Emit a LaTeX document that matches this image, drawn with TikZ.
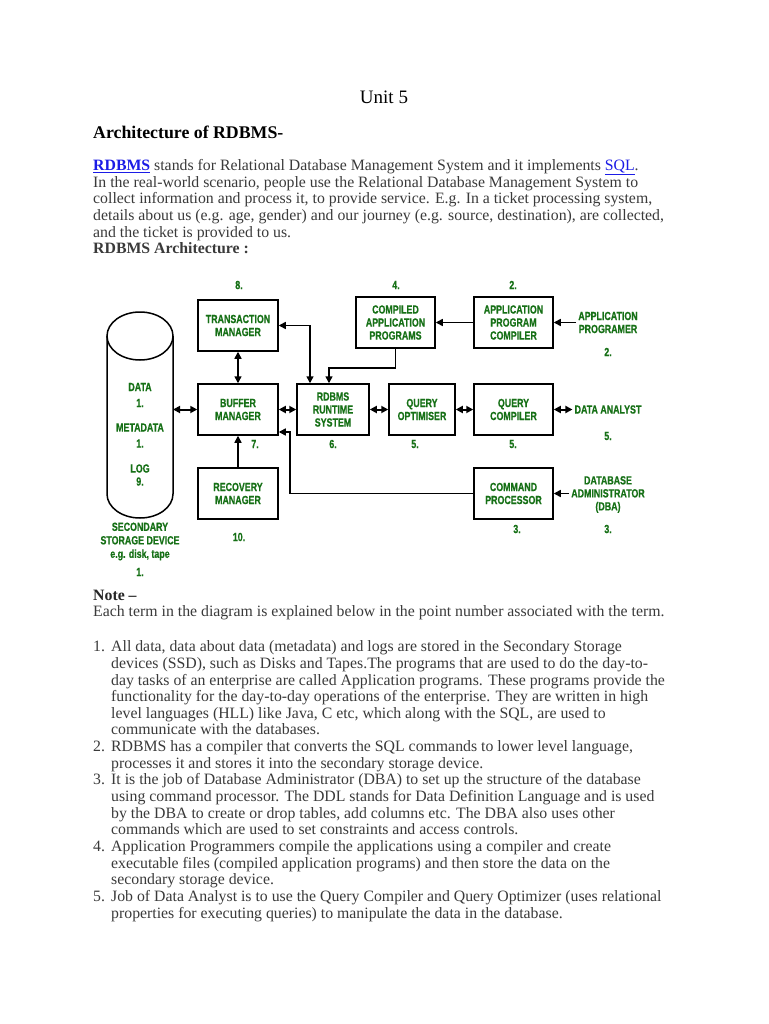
\documentclass[tikz,border=0pt]{standalone}
\usepackage{fontspec}
\setmainfont{Liberation Serif}
\newfontfamily\diagfont[FakeStretch=0.75,FakeBold=0.6]{Liberation Sans}
\usetikzlibrary{arrows.meta,positioning}
\definecolor{dgreen}{RGB}{22,112,22}
\definecolor{txtgray}{RGB}{58,58,58}
\definecolor{linkblue}{RGB}{28,28,230}

\tikzset{
	mbox/.style={draw, line width=1.5pt, minimum width=80pt, minimum height=51pt, inner sep=0pt, align=center, text=dgreen, font=\diagfont\bfseries\fontsize{11.8}{13}\selectfont},
	lbl/.style={inner sep=2pt, align=center, text=dgreen, font=\diagfont\bfseries\fontsize{11.8}{13}\selectfont},
	body/.style={anchor=base west, inner sep=0pt, text=txtgray, font=\fontsize{15.8}{16.6}\selectfont},
	link/.style={line width=1.5pt},
}

\begin{document}
\begin{tikzpicture}[x=1pt, y=-1pt, >={Triangle[length=7pt,width=7pt]}]
	\fill[white] (0,0) rectangle (768,1024);
	\useasboundingbox (0,0) rectangle (768,1024);
	% page text
	\node[anchor=base, inner sep=0pt, font=\fontsize{19}{20}\selectfont] (unit) at (384,103.3) {Unit 5};
	\node[anchor=base west, inner sep=0pt, font=\bfseries\fontsize{17.8}{20}\selectfont] (head) at (93,138.3) {Architecture of RDBMS-};
	\node[body] (p1) at (93,170.7) {\textcolor{linkblue}{\bfseries\underline{RDBMS}} stands for Relational Database Management System and it implements \textcolor{linkblue}{\underline{SQL}}.};
	\node[body] (p2) at (93,187.3) {In the real-world scenario, people use the Relational Database Management System to};
	\node[body] (p3) at (93,204) {collect information and process it, to provide service. E.g. In a ticket processing system,};
	\node[body] (p4) at (93,220.6) {details about us (e.g. age, gender) and our journey (e.g. source, destination), are collected,};
	\node[body] (p5) at (93,237.2) {and the ticket is provided to us.};
	\node[body, font=\bfseries\fontsize{15.8}{16.6}\selectfont] (p6) at (93,253.8) {RDBMS Architecture :};
	% storage device
	\draw[line width=1.5pt] (140,336) ellipse [x radius=33pt, y radius=24pt];
	\draw[line width=1.5pt] (107,336) -- (107,494) arc[start angle=180, end angle=360, x radius=33pt, y radius=24pt] -- (173,336);
	\coordinate (ssd) at (173,409.5);
	\node[lbl] (data) at (140,395) {DATA\\[3pt]1.};
	\node[lbl] (meta) at (140,435.5) {METADATA\\[3pt]1.};
	\node[lbl] (log) at (140,475) {LOG\\9.};
	\node[lbl, font=\diagfont\bfseries\fontsize{11.8}{13.5}\selectfont] (ssdtxt) at (140,541.5) {SECONDARY\\STORAGE DEVICE\\e.g. disk, tape};
	\node[lbl] (n1) at (140,572) {1.};
	% boxes
	\node[mbox] (tm) at (238,325.5) {TRANSACTION\\MANAGER};
	\node[mbox] (bm) at (238,409.5) {BUFFER\\MANAGER};
	\node[mbox] (rm) at (238,493.5) {RECOVERY\\MANAGER};
	\node[mbox, minimum width=72pt] (rt) at (333,409.5) {RDBMS\\RUNTIME\\SYSTEM};
	\node[mbox, minimum width=66pt] (qo) at (422,409.5) {QUERY\\OPTIMISER};
	\node[mbox, minimum width=79pt] (qc) at (513.5,409.5) {QUERY\\COMPILER};
	\node[mbox, minimum width=79pt] (cap) at (395.5,322.5) {COMPILED\\APPLICATION\\PROGRAMS};
	\node[mbox, minimum width=79pt] (apc) at (513.5,322.5) {APPLICATION\\PROGRAM\\COMPILER};
	\node[mbox, minimum width=79pt] (cp) at (513.5,493.5) {COMMAND\\PROCESSOR};
	% users
	\node[lbl] (ap) at (608,322.5) {APPLICATION\\PROGRAMER};
	\node[lbl] (da) at (608,409.5) {DATA ANALYST};
	\node[lbl] (dba) at (608,494.5) {DATABASE\\ADMINISTRATOR\\(DBA)};
	% numbers
	\node[lbl] (n8) at (239,285) {8.};
	\node[lbl] (n4) at (396,285) {4.};
	\node[lbl] (n2) at (513,285) {2.};
	\node[lbl] (n2b) at (608,352) {2.};
	\node[lbl] (n7) at (255,444) {7.};
	\node[lbl] (n6) at (333,444) {6.};
	\node[lbl] (n5) at (415,444) {5.};
	\node[lbl] (n5b) at (513,444) {5.};
	\node[lbl] (n5c) at (608,436) {5.};
	\node[lbl] (n10) at (239,537) {10.};
	\node[lbl] (n3) at (517,529) {3.};
	\node[lbl] (n3b) at (608,529) {3.};
	% connectors
	\draw[link, line width=2pt, <->] (ssd) -- (bm);
	\draw[link, <->] (tm) -- (bm);
	\draw[link, line width=2pt, <->] (bm) -- (rt);
	\draw[link, line width=2pt, <->] (rt) -- (qo);
	\draw[link, line width=2pt, <->] (qo) -- (qc);
	\draw[link, line width=2pt, <->] (qc) -- (da);
	\draw[link, <->] (tm.east) -| ([xshift=-23pt]rt.north);
	\draw[link, ->] (cap.south) -- ++(0,19) -| ([xshift=-4pt]rt.north);
	\draw[link, ->] (apc) -- (cap);
	\draw[link, ->] (ap) -- (apc);
	\draw[link, ->] (rm) -- (bm);
	\draw[link, ->] (cp.west) -| (290,432) -- ([yshift=-22.5pt]bm.east);
	\draw[link, ->] (dba.west |- cp.east) -- (cp.east);
	% note and list
	\node[body, text=black!85, font=\bfseries\fontsize{15.8}{16.6}\selectfont] (note) at (93,600) {Note --};
	\node[body] (each) at (93,616.7) {Each term in the diagram is explained below in the point number associated with the term.};
	\foreach \n/\k in {1/1,2/7,3/9,4/13,5/16}
		\node[body] (num\n) at (93,{651.7+16.65*(\k-1)}) {\n.};
	\foreach \ln [count=\i] in {
		{All data, data about data (metadata) and logs are stored in the Secondary Storage},
		{devices (SSD), such as Disks and Tapes.The programs that are used to do the day-to-},
		{day tasks of an enterprise are called Application programs. These programs provide the},
		{functionality for the day-to-day operations of the enterprise. They are written in high},
		{level languages (HLL) like Java, C etc, which along with the SQL, are used to},
		{communicate with the databases.},
		{RDBMS has a compiler that converts the SQL commands to lower level language,},
		{processes it and stores it into the secondary storage device.},
		{It is the job of Database Administrator (DBA) to set up the structure of the database},
		{using command processor. The DDL stands for Data Definition Language and is used},
		{by the DBA to create or drop tables, add columns etc. The DBA also uses other},
		{commands which are used to set constraints and access controls.},
		{Application Programmers compile the applications using a compiler and create},
		{executable files (compiled application programs) and then store the data on the},
		{secondary storage device.},
		{Job of Data Analyst is to use the Query Compiler and Query Optimizer (uses relational},
		{properties for executing queries) to manipulate the data in the database.}}
		\node[body] (line\i) at (111,{651.7+16.65*(\i-1)}) {\ln};
\end{tikzpicture}
\end{document}
